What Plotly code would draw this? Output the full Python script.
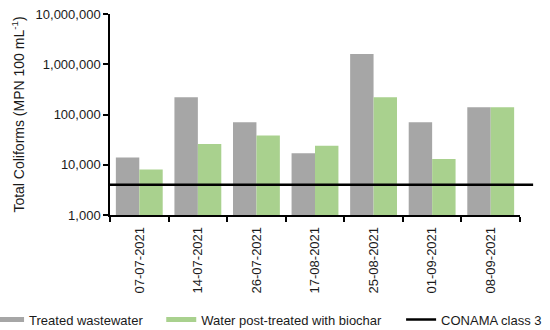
import plotly.graph_objects as go

dates = ["07-07-2021", "14-07-2021", "26-07-2021", "17-08-2021",
         "25-08-2021", "01-09-2021", "08-09-2021"]
treated_wastewater = [14000, 220000, 70000, 17000, 1600000, 70000, 140000]
post_treated_biochar = [8000, 26000, 38000, 24000, 220000, 13000, 140000]
conama_class3 = 4000
y_tickvals = [1000, 10000, 100000, 1000000, 10000000]
y_ticktext = ["1,000", "10,000", "100,000", "1,000,000", "10,000,000"]

GRAY = "#A6A6A6"
GREEN = "#A9D18E"
FONT = "Arial, Liberation Sans, sans-serif"
TXT = "#1a1a1a"

fig = go.Figure()
fig.add_trace(go.Bar(x=dates, y=treated_wastewater, marker_color=GRAY,
                     marker_line_width=0, showlegend=False, name="Treated wastewater"))
fig.add_trace(go.Bar(x=dates, y=post_treated_biochar, marker_color=GREEN,
                     marker_line_width=0, showlegend=False,
                     name="Water post-treated with biochar"))

# legend entries (flat swatches like the original)
fig.add_trace(go.Scatter(x=[None], y=[None], mode="lines", line=dict(color=GRAY, width=5),
                         name="Treated wastewater", legend="legend"))
fig.add_trace(go.Scatter(x=[None], y=[None], mode="lines", line=dict(color=GREEN, width=5),
                         name="Water post-treated with biochar", legend="legend2"))
fig.add_trace(go.Scatter(x=[None], y=[None], mode="lines", line=dict(color="black", width=2.5),
                         name="CONAMA class 3", legend="legend3"))

fig.add_shape(type="line", xref="paper", yref="y", x0=0, x1=1.032,
              y0=conama_class3, y1=conama_class3,
              line=dict(color="black", width=2.5))

leg_common = dict(orientation="h", yanchor="middle", y=-0.52, xanchor="left",
                  font=dict(family=FONT, size=13, color=TXT),
                  bgcolor="rgba(0,0,0,0)", borderwidth=0)

fig.update_layout(
    width=550, height=330,
    margin=dict(l=110, r=30, t=14, b=115, autoexpand=False),
    paper_bgcolor="white", plot_bgcolor="white",
    barmode="group", bargap=0.2, bargroupgap=0,
    font=dict(family=FONT, size=13, color=TXT),
    legend=dict(x=-0.295, **leg_common),
    legend2=dict(x=0.125, **leg_common),
    legend3=dict(x=0.71, **leg_common),
    xaxis=dict(type="category", showline=True, linecolor="black", linewidth=1.5,
               ticks="outside", tickson="boundaries", ticklen=5, tickcolor="black",
               tickwidth=1.5, tickangle=-90, showgrid=False, zeroline=False,
               ticklabelstandoff=5,
               tickfont=dict(family=FONT, size=13, color=TXT)),
    yaxis=dict(type="log", range=[3, 7], tickvals=y_tickvals, ticktext=y_ticktext,
               showline=True, linecolor="black", linewidth=1.5, ticks="outside",
               ticklen=5, tickcolor="black", tickwidth=1.5, showgrid=False,
               zeroline=False, tickfont=dict(family=FONT, size=13, color=TXT),
               title=dict(text="Total Coliforms (MPN 100 mL<sup>-1</sup>)",
                          font=dict(family=FONT, size=14, color=TXT), standoff=8)),
)

fig.write_html("out.html", config={"displayModeBar": False},
               post_script="document.body.style.margin='0px';")
